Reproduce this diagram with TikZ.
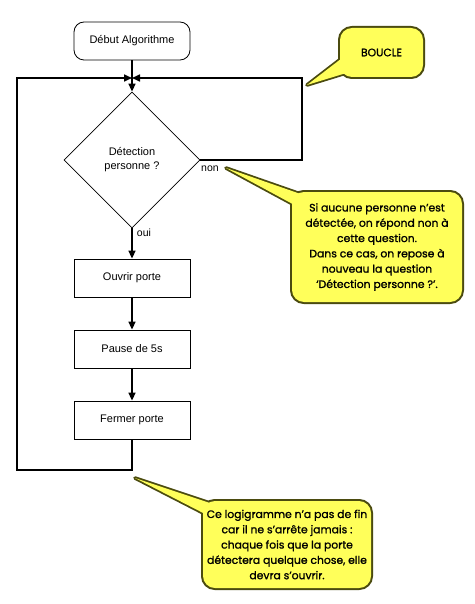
\documentclass[tikz,border=0pt]{standalone}
\usepackage{fontspec}
\setmainfont{Liberation Sans}
\newfontfamily\notefont{Poppins}[FakeBold=1.2]
\usepackage{xcolor}
\usetikzlibrary{arrows.meta, shapes.geometric, positioning, backgrounds}
\definecolor{noteyellow}{RGB}{255,255,90}
\definecolor{noteline}{RGB}{75,75,15}

\begin{document}
\begin{tikzpicture}[x=1pt, y=-1pt,
box/.style={rectangle, draw, line width=0.8pt, minimum width=116pt, minimum height=38pt, inner sep=0pt, font=\fontsize{11}{14}\selectfont},
start/.style={box, rounded corners=10pt},
test/.style={diamond, draw, line width=0.8pt, minimum width=136pt, minimum height=136pt, inner sep=0pt, align=center, font=\fontsize{11}{14}\selectfont},
tag/.style={inner sep=0pt, font=\fontsize{10.5}{12}\selectfont},
flow/.style={line width=1.6pt, -{Triangle[length=8pt, width=7pt]}},
note/.style={rectangle, fill=noteyellow, rounded corners=12pt, align=center, inner sep=0pt, font=\notefont\fontsize{10.8}{15.3}\selectfont},
pointer/.style={draw=noteline, line width=3.6pt, line join=round}
]
\useasboundingbox (0,0) rectangle (474,604);

\node[start] (debut) at (132,41) {Début Algorithme};
\coordinate (jonction) at (132,78);
\node[test] (detection) at (132,160) {Détection\\personne ?};
\node[box] (ouvrir) at (132,278) {Ouvrir porte};
\node[box] (pause) at (132,349) {Pause de 5s};
\node[box] (fermer) at (132,420) {Fermer porte};

\node[tag] (non) at (210,169) {non};
\node[tag] (oui) at (144,233) {oui};

\coordinate (droite) at (302,78);
\coordinate (gauche) at (17,470);

\draw[flow] (debut) -- (detection);
\draw[flow] (detection.east) -| (droite) -- (jonction);
\draw[flow] (fermer.south) |- (gauche) |- (jonction);
\draw[flow] (detection) -- (ouvrir);
\draw[flow] (ouvrir) -- (pause);
\draw[flow] (pause) -- (fermer);

\node[note, minimum width=83pt, minimum height=49pt] (boucle) at (381.5,52.5) {BOUCLE};
\node[note, minimum width=170pt, minimum height=110pt] (remarque) at (377,247) {Si aucune personne n’est\\détectée, on répond non à\\cette question.\\Dans ce cas, on repose à\\nouveau la question\\‘Détection personne ?’.};
\node[note, minimum width=168pt, minimum height=87pt] (sansfin) at (287,544.5) {Ce logigramme n’a pas de fin\\car il ne s’arrête jamais :\\chaque fois que la porte\\détectera quelque chose, elle\\devra s’ouvrir.};

\coordinate (pointe1) at (307,85);
\coordinate (pointe2) at (226,168);
\coordinate (pointe3) at (135,478);

\begin{scope}[on background layer]
\foreach \n in {boucle, remarque, sansfin}
  \draw[pointer, rounded corners=12pt] (\n.north west) rectangle (\n.south east);
\draw[pointer] (pointe1) -- (346,55) -- (356,70) -- cycle;
\draw[pointer] (pointe2) -- (312,198) -- (300,208) -- cycle;
\draw[pointer] (pointe3) -- (222,507) -- (209,516) -- cycle;
\fill[noteyellow] (pointe1) -- (346,55) -- (356,70) -- cycle;
\fill[noteyellow] (pointe2) -- (312,198) -- (300,208) -- cycle;
\fill[noteyellow] (pointe3) -- (222,507) -- (209,516) -- cycle;
\end{scope}

\end{tikzpicture}
\end{document}
